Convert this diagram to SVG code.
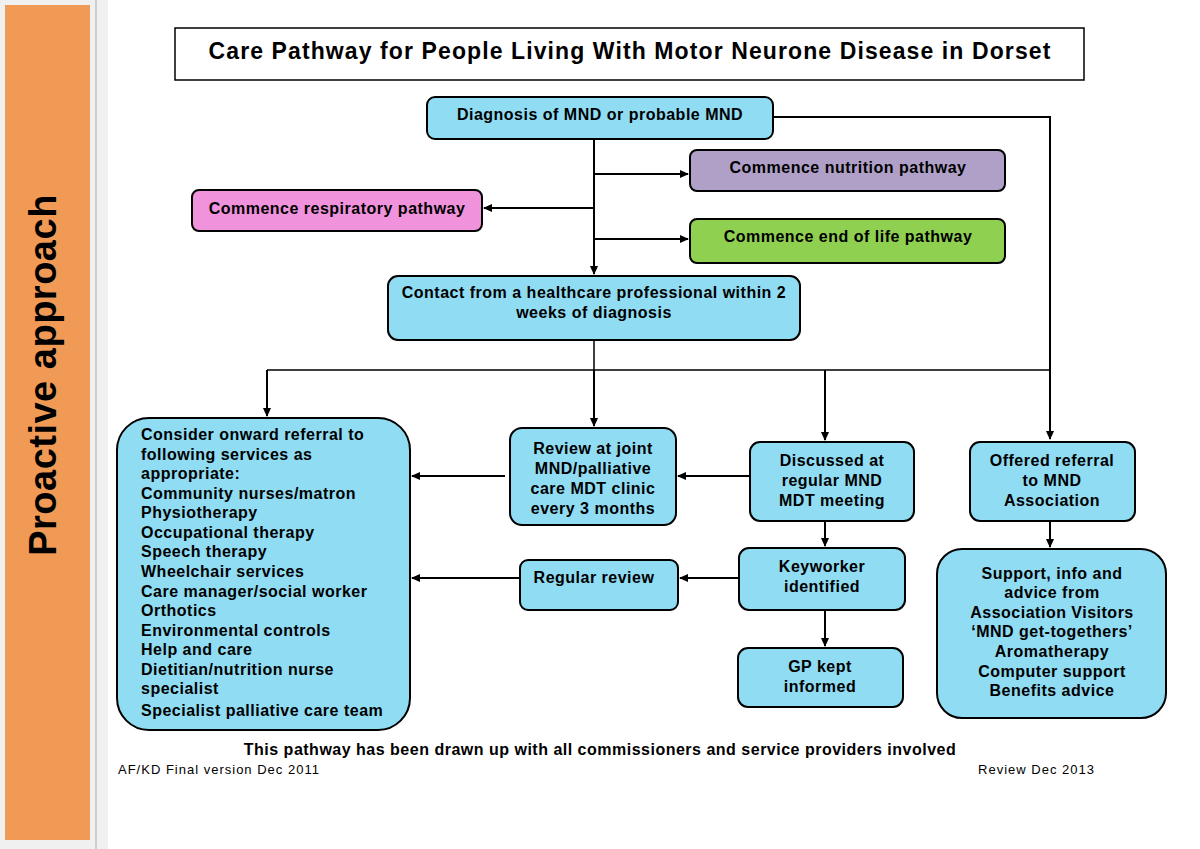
<svg xmlns="http://www.w3.org/2000/svg" width="1200" height="849" viewBox="0 0 1200 849">
<defs>
<marker id="a" markerWidth="10" markerHeight="10" refX="8" refY="5" orient="auto" markerUnits="userSpaceOnUse"><path d="M0,1 L9,5 L0,9 z" fill="#000"/></marker>
<style>
.b{fill:#8fdcf3;stroke:#000;stroke-width:2}
text{font-family:"Liberation Sans",Arial,sans-serif;font-weight:bold;font-size:16px;letter-spacing:0.5px;fill:#000}
.c{text-anchor:middle}
.l{fill:none;stroke:#000;stroke-width:1.5}
.ar{fill:none;stroke:#000;stroke-width:2;marker-end:url(#a)}
</style>
</defs>
<rect width="1200" height="849" fill="#fff"/>
<rect x="0" y="0" width="108" height="849" fill="#f0f0f0"/>
<rect x="5" y="5" width="85" height="835" fill="#f09a55"/>
<line x1="96" y1="0" x2="96" y2="849" stroke="#ccc" stroke-width="2"/>
<text transform="translate(56,375) rotate(-90)" class="c" style="font-size:38px">Proactive approach</text>
<g id="title"><rect x="175" y="28" width="909" height="52" fill="#fff" stroke="#000" stroke-width="1.5"/><text x="630" y="59" class="c" style="font-size:23px;letter-spacing:1.1px">Care Pathway for People Living With Motor Neurone Disease in Dorset</text></g>
<g id="connectors">
<path class="ar" d="M594,139 V274"/>
<path class="ar" d="M594,174 H688"/>
<path class="ar" d="M594,208 H484"/>
<path class="ar" d="M594,239 H688"/>
<path class="ar" d="M773,117 H1050 V439"/>
<path class="l" d="M594,340 V370 M267,370 H1050"/>
<path class="ar" d="M267,370 V416"/>
<path class="ar" d="M594,370 V426"/>
<path class="ar" d="M825,370 V440"/>
<path class="ar" d="M505,476 H412"/>
<path class="ar" d="M750,476 H678"/>
<path class="ar" d="M520,578 H412"/>
<path class="ar" d="M739,578 H680"/>
<path class="ar" d="M825,521 V546"/>
<path class="ar" d="M825,610 V646"/>
<path class="ar" d="M1050,521 V547"/>
</g>
<g id="diag"><rect x="427" y="97" width="346" height="42" rx="8" class="b"/><text x="600" y="120" class="c">Diagnosis of MND or probable MND</text></g>
<g id="nutr"><rect x="690" y="150" width="315" height="41" rx="7" fill="#b0a0c8" stroke="#000" stroke-width="2"/><text x="848" y="173" class="c">Commence nutrition pathway</text></g>
<g id="resp"><rect x="192" y="190" width="290" height="41" rx="7" fill="#f092dc" stroke="#000" stroke-width="2"/><text x="337" y="214" class="c">Commence respiratory pathway</text></g>
<g id="eol"><rect x="690" y="219" width="315" height="44" rx="7" fill="#90d050" stroke="#000" stroke-width="2"/><text x="848" y="242" class="c">Commence end of life pathway</text></g>
<g id="contact"><rect x="388" y="276" width="412" height="64" rx="10" class="b"/><text x="594" y="298" class="c">Contact from a healthcare professional within 2</text><text x="594" y="318" class="c">weeks of diagnosis</text></g>
<g id="consider"><rect x="117" y="418" width="293" height="312" rx="32" class="b"/>
<text x="141" y="0"><tspan x="141" y="440">Consider onward referral to</tspan><tspan x="141" y="460">following services as</tspan><tspan x="141" y="479">appropriate:</tspan><tspan x="141" y="499">Community nurses/matron</tspan><tspan x="141" y="518">Physiotherapy</tspan><tspan x="141" y="538">Occupational therapy</tspan><tspan x="141" y="557">Speech therapy</tspan><tspan x="141" y="577">Wheelchair services</tspan><tspan x="141" y="597">Care manager/social worker</tspan><tspan x="141" y="616">Orthotics</tspan><tspan x="141" y="636">Environmental controls</tspan><tspan x="141" y="655">Help and care</tspan><tspan x="141" y="675">Dietitian/nutrition nurse</tspan><tspan x="141" y="694">specialist</tspan><tspan x="141" y="716">Specialist palliative care team</tspan></text></g>
<g id="review"><rect x="510" y="428" width="166" height="97" rx="12" class="b"/><text class="c"><tspan x="593" y="454">Review at joint</tspan><tspan x="593" y="474">MND/palliative</tspan><tspan x="593" y="494">care MDT clinic</tspan><tspan x="593" y="514">every 3 months</tspan></text></g>
<g id="discussed"><rect x="750" y="442" width="164" height="79" rx="10" class="b"/><text class="c"><tspan x="832" y="466">Discussed at</tspan><tspan x="832" y="486">regular MND</tspan><tspan x="832" y="506">MDT meeting</tspan></text></g>
<g id="offered"><rect x="970" y="442" width="165" height="79" rx="10" class="b"/><text class="c"><tspan x="1052" y="466">Offered referral</tspan><tspan x="1052" y="486">to MND</tspan><tspan x="1052" y="506">Association</tspan></text></g>
<g id="keyworker"><rect x="739" y="548" width="166" height="62" rx="10" class="b"/><text class="c"><tspan x="822" y="572">Keyworker</tspan><tspan x="822" y="592">identified</tspan></text></g>
<g id="regular"><rect x="520" y="560" width="158" height="50" rx="8" class="b"/><text x="594" y="583" class="c">Regular review</text></g>
<g id="gp"><rect x="738" y="648" width="165" height="59" rx="10" class="b"/><text class="c"><tspan x="820" y="672">GP kept</tspan><tspan x="820" y="692">informed</tspan></text></g>
<g id="support"><rect x="937" y="549" width="229" height="169" rx="25" class="b"/><text class="c"><tspan x="1052" y="579">Support, info and</tspan><tspan x="1052" y="598">advice from</tspan><tspan x="1052" y="618">Association Visitors</tspan><tspan x="1052" y="637">‘MND get-togethers’</tspan><tspan x="1052" y="657">Aromatherapy</tspan><tspan x="1052" y="677">Computer support</tspan><tspan x="1052" y="696">Benefits advice</tspan></text></g>
<text x="600" y="755" class="c">This pathway has been drawn up with all commissioners and service providers involved</text>
<text x="118" y="774" style="font-weight:normal;font-size:13px;letter-spacing:1px">AF/KD Final version Dec 2011</text>
<text x="1095" y="774" style="font-weight:normal;font-size:13px;letter-spacing:1px;text-anchor:end">Review Dec 2013</text>
</svg>
